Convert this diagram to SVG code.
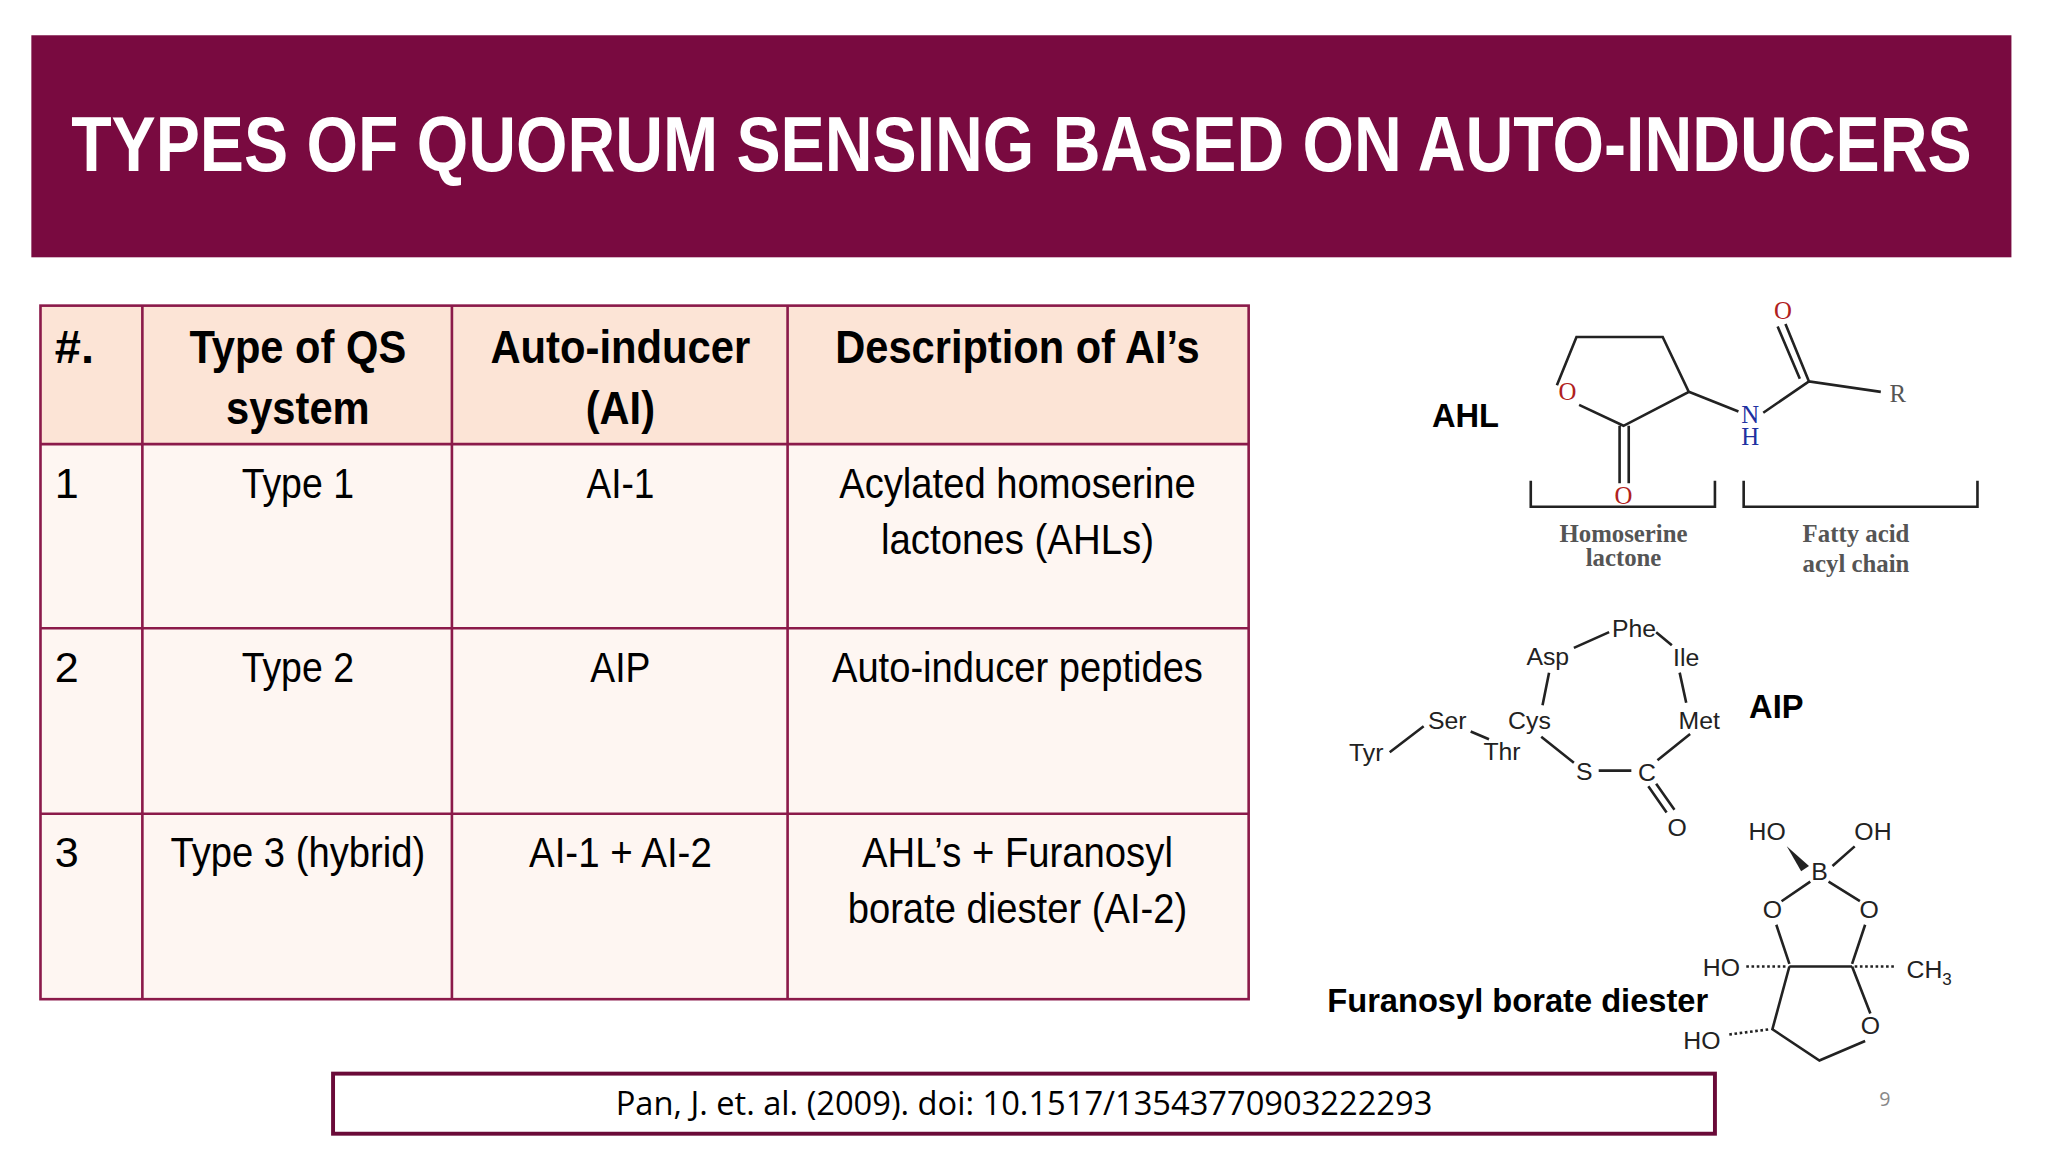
<svg xmlns="http://www.w3.org/2000/svg" width="2048" height="1152" viewBox="0 0 2048 1152">
<style>
.t{font-family:"Liberation Sans Narrow","Liberation Sans",Arial,sans-serif;fill:#000}
.h{font-weight:bold;font-size:36px}
.b{font-size:33px}
.cell{stroke:#8b1a4a;stroke-width:2;fill:none}
.bond{stroke:#222;stroke-width:2;fill:none}
.ch{font-family:"Liberation Sans",Arial,sans-serif;font-size:19px;fill:#222}
.sf{font-family:"Liberation Serif","DejaVu Serif",serif;font-size:19px;fill:#555}
.lbl{font-family:"Liberation Sans",Arial,sans-serif;font-weight:bold;font-size:25px;fill:#000}
</style>
<rect width="2048" height="1152" fill="#fff"/>
<g transform="scale(1.30612)">
<g id="title">
<rect x="24" y="27" width="1516" height="170" fill="#790a40"/>
<text x="782" y="131" text-anchor="middle" class="t" font-weight="bold" font-size="60" style="fill:#fff" textLength="1455" lengthAdjust="spacingAndGlyphs">TYPES OF QUORUM SENSING BASED ON AUTO-INDUCERS</text>
</g>
<g id="table">
<rect x="31" y="234" width="925" height="106" fill="#fce4d6"/>
<rect x="31" y="340" width="925" height="425" fill="#fef6f2"/>
<rect x="31" y="234" width="925" height="531" class="cell"/>
<path class="cell" d="M109 234V765M346 234V765M603 234V765M31 340H956M31 481H956M31 623H956"/>
<text class="t h" x="42" y="278">#.</text>
<text class="t h" x="228" y="278" text-anchor="middle" textLength="166" lengthAdjust="spacingAndGlyphs">Type of QS</text>
<text class="t h" x="228" y="325" text-anchor="middle" textLength="110" lengthAdjust="spacingAndGlyphs">system</text>
<text class="t h" x="475" y="278" text-anchor="middle" textLength="199" lengthAdjust="spacingAndGlyphs">Auto-inducer</text>
<text class="t h" x="475" y="325" text-anchor="middle" textLength="53" lengthAdjust="spacingAndGlyphs">(AI)</text>
<text class="t h" x="779" y="278" text-anchor="middle" textLength="279" lengthAdjust="spacingAndGlyphs">Description of AI’s</text>
<text class="t b" x="42" y="381">1</text>
<text class="t b" x="228" y="381" text-anchor="middle" textLength="86" lengthAdjust="spacingAndGlyphs">Type 1</text>
<text class="t b" x="475" y="381" text-anchor="middle" textLength="52" lengthAdjust="spacingAndGlyphs">AI-1</text>
<text class="t b" x="779" y="381" text-anchor="middle" textLength="273" lengthAdjust="spacingAndGlyphs">Acylated homoserine</text>
<text class="t b" x="779" y="424" text-anchor="middle" textLength="209" lengthAdjust="spacingAndGlyphs">lactones (AHLs)</text>
<text class="t b" x="42" y="522">2</text>
<text class="t b" x="228" y="522" text-anchor="middle" textLength="86" lengthAdjust="spacingAndGlyphs">Type 2</text>
<text class="t b" x="475" y="522" text-anchor="middle" textLength="46" lengthAdjust="spacingAndGlyphs">AIP</text>
<text class="t b" x="779" y="522" text-anchor="middle" textLength="284" lengthAdjust="spacingAndGlyphs">Auto-inducer peptides</text>
<text class="t b" x="42" y="664">3</text>
<text class="t b" x="228" y="664" text-anchor="middle" textLength="195" lengthAdjust="spacingAndGlyphs">Type 3 (hybrid)</text>
<text class="t b" x="475" y="664" text-anchor="middle" textLength="140" lengthAdjust="spacingAndGlyphs">AI-1 + AI-2</text>
<text class="t b" x="779" y="664" text-anchor="middle" textLength="238" lengthAdjust="spacingAndGlyphs">AHL’s + Furanosyl</text>
<text class="t b" x="779" y="707" text-anchor="middle" textLength="260" lengthAdjust="spacingAndGlyphs">borate diester (AI-2)</text>
</g>
<g id="ahl">
<text class="lbl" x="1122" y="327" text-anchor="middle">AHL</text>
<path class="bond" d="M1192 295L1207 258H1273L1293 300L1243 326L1209 310M1240 326V370M1247 326V370M1293 300L1331 315M1350 316L1385 292L1440 300M1385 292L1367 248M1378 290L1361 250"/>
<text class="sf" x="1200" y="306" text-anchor="middle" style="fill:#b02020">O</text>
<text class="sf" x="1243" y="386" text-anchor="middle" style="fill:#b02020">O</text>
<text class="sf" x="1365" y="244" text-anchor="middle" style="fill:#b02020">O</text>
<text class="sf" x="1340" y="324" text-anchor="middle" font-size="17" style="fill:#2030a0">N</text>
<text class="sf" x="1340" y="341" text-anchor="middle" font-size="17" style="fill:#2030a0">H</text>
<text class="sf" x="1453" y="308" text-anchor="middle">R</text>
<path class="bond" d="M1172 368V388H1313V368M1335 368V388H1514V368" stroke="#555"/>
<text class="sf" x="1243" y="415" text-anchor="middle" font-weight="bold">Homoserine</text>
<text class="sf" x="1243" y="433" text-anchor="middle" font-weight="bold">lactone</text>
<text class="sf" x="1421" y="415" text-anchor="middle" font-weight="bold">Fatty acid</text>
<text class="sf" x="1421" y="438" text-anchor="middle" font-weight="bold">acyl chain</text>
</g>
<g id="aip">
<text class="lbl" x="1360" y="550" text-anchor="middle">AIP</text>
<g class="ch" text-anchor="middle">
<text x="1251" y="488">Phe</text><text x="1291" y="510">Ile</text><text x="1301" y="558">Met</text>
<text x="1261" y="598">C</text><text x="1284" y="640">O</text><text x="1213" y="597">S</text>
<text x="1171" y="558">Cys</text><text x="1185" y="509">Asp</text><text x="1108" y="558">Ser</text>
<text x="1150" y="582">Thr</text><text x="1046" y="583">Tyr</text>
</g>
<path class="bond" d="M1205 496L1232 484M1268 484L1280 494M1286 515L1291 538M1294 562L1269 582M1249 590H1224M1205 584L1180 564M1186 515L1181 540M1064 576L1090 556M1126 560L1140 566M1262 602L1276 622M1268 600L1282 620"/>
</g>
<g id="borate">
<g class="ch" text-anchor="middle">
<text x="1353" y="643">HO</text><text x="1434" y="643">OH</text><text x="1393" y="674">B</text>
<text x="1357" y="703">O</text><text x="1431" y="703">O</text>
<text x="1318" y="747">HO</text><text x="1477" y="749">CH<tspan font-size="13" dy="5">3</tspan></text>
<text x="1432" y="792">O</text><text x="1303" y="803">HO</text>
</g>
<path class="bond" d="M1403 663L1420 648M1386 675L1364 690M1400 675L1424 690M1360 708L1370 738M1428 708L1418 738M1370 740H1418M1370 740L1357 788L1393 812L1428 797M1418 740L1432 776"/>
<path d="M1368 648L1385 663L1379 667Z" fill="#222"/>
<path class="bond" d="M1337 740H1368M1420 740H1452M1324 792L1355 788" stroke-dasharray="2 2"/>
<text class="lbl" x="1162" y="775" text-anchor="middle">Furanosyl borate diester</text>
</g>
<g id="citation">
<rect x="255" y="822" width="1058" height="46" fill="#fff" stroke="#6a0a38" stroke-width="3"/>
<text x="784" y="854" text-anchor="middle" font-family="'Open Sans','Noto Sans',sans-serif" font-size="25">Pan, J. et. al. (2009). doi: 10.1517/13543770903222293</text>
<text x="1443" y="847" text-anchor="middle" font-family="'Open Sans',sans-serif" font-size="15" fill="#888">9</text>
</g>
</g>
</svg>
